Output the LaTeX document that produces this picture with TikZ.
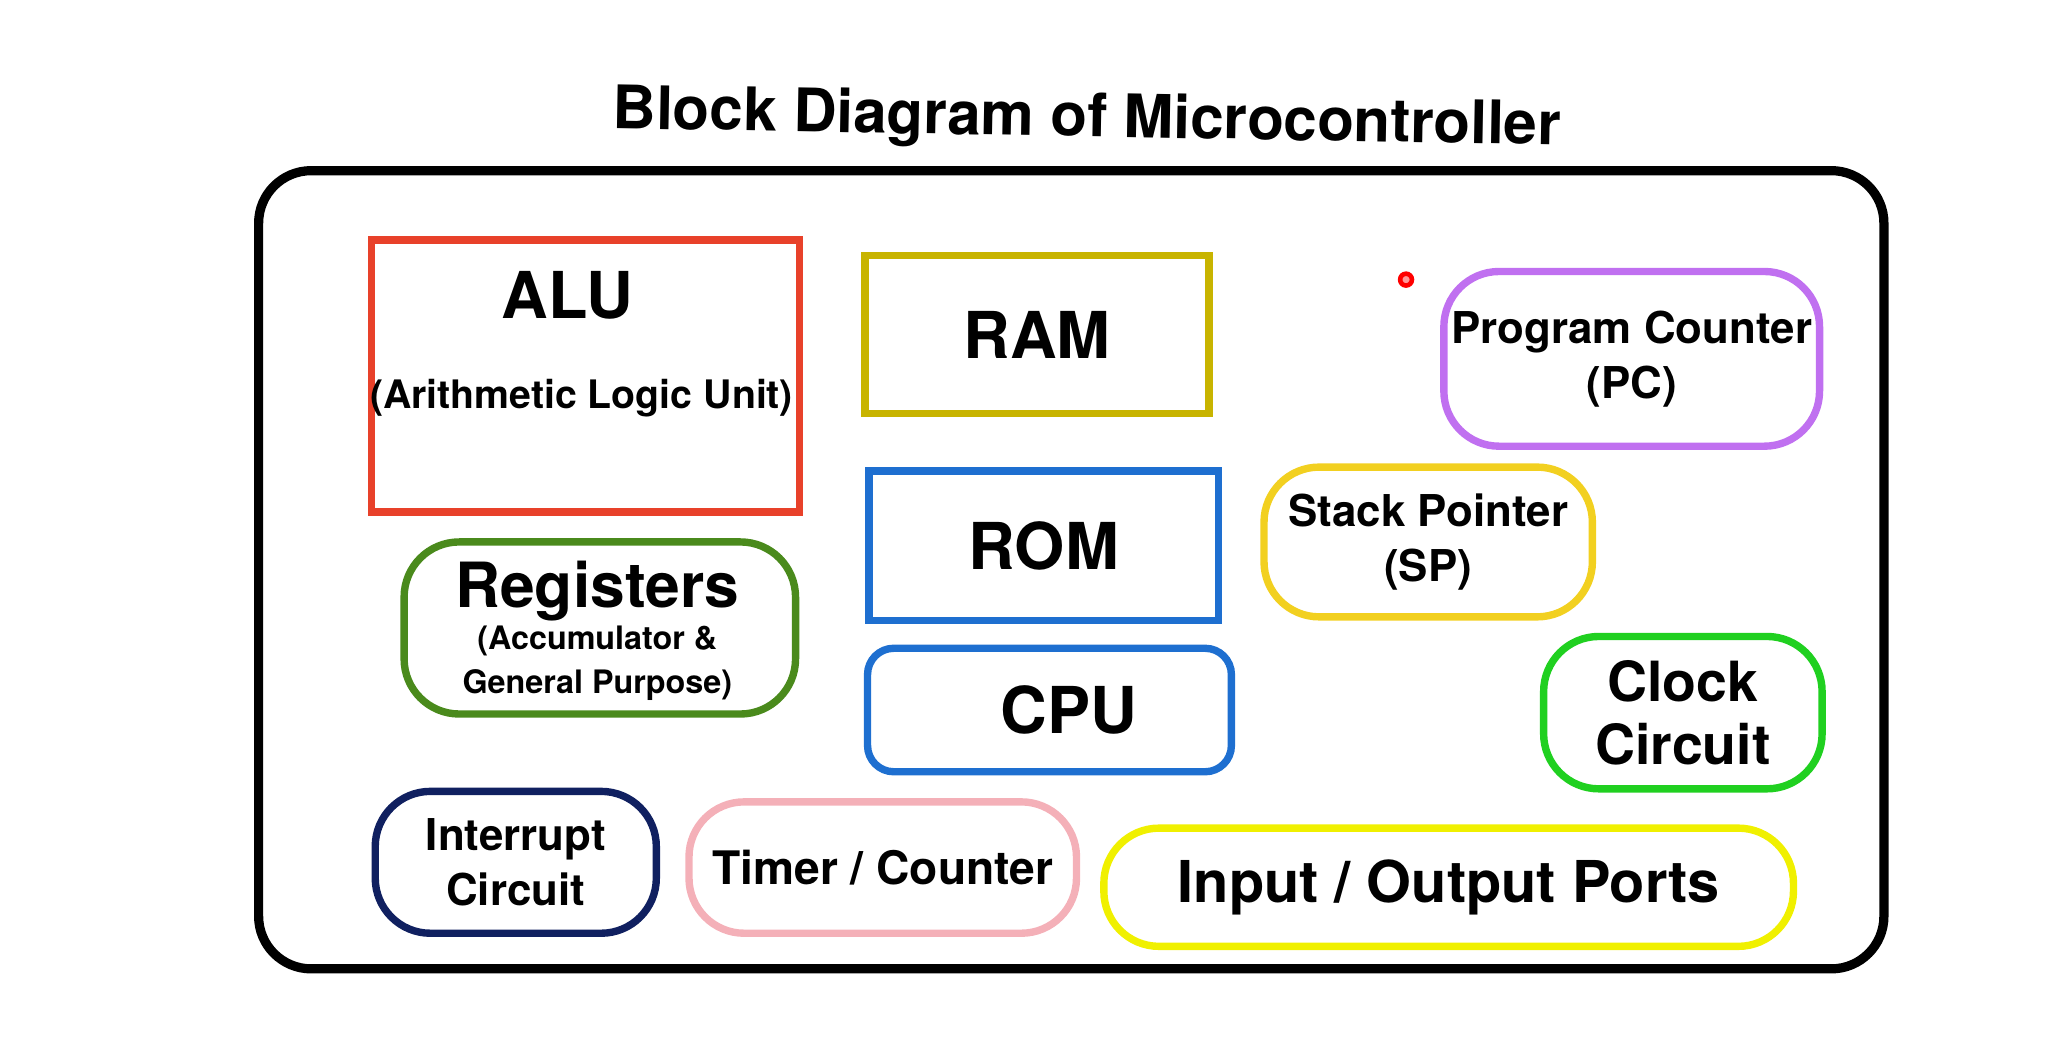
\documentclass[tikz,border=0pt]{standalone}
\usepackage{fontspec}
\setmainfont{TeX Gyre Heros}
\usetikzlibrary{positioning}
\definecolor{aluRed}{HTML}{E8412A}
\definecolor{ramOlive}{HTML}{C8B400}
\definecolor{romBlue}{HTML}{1E6FD0}
\definecolor{regGreen}{HTML}{4A8A1C}
\definecolor{pcViolet}{HTML}{C070F0}
\definecolor{spYellow}{HTML}{F2D020}
\definecolor{clkGreen}{HTML}{20D020}
\definecolor{intNavy}{HTML}{102060}
\definecolor{tmrPink}{HTML}{F4B0B8}
\definecolor{ioYellow}{HTML}{F0F000}
\begin{document}
\begin{tikzpicture}[x=0.01cm,y=-0.01cm,
block/.style={draw, line width=1.6pt, inner sep=0pt, font=\bfseries, align=center, anchor=north west},
rblock/.style={block, rounded corners=0.42cm},
]
\useasboundingbox (0,0) rectangle (1560,792);
\node[font=\bfseries\fontsize{13}{15}\selectfont, rotate=-1] (title) at (828,92) {Block Diagram of Microcontroller};
\draw[line width=2pt, rounded corners=0.4cm] (197,130) rectangle (1435,738);

\node[block, draw=aluRed, minimum width=3.26cm, minimum height=2.07cm] (alu) at (280,180) {};
\node[font=\bfseries\fontsize{14}{16}\selectfont] (alut) at (432,225) {ALU};
\node[font=\bfseries\fontsize{8.5}{10}\selectfont] (alus) at (443,303) {(Arithmetic Logic Unit)};

\node[block, draw=ramOlive, minimum width=2.62cm, minimum height=1.2cm, font=\bfseries\fontsize{14}{16}\selectfont] (ram) at (656,192) {RAM};
\node[block, draw=romBlue, minimum width=2.66cm, minimum height=1.14cm, font=\bfseries\fontsize{14}{16}\selectfont] (rom) at (659,356) {ROM};
\node[rblock, draw=romBlue, minimum width=2.77cm, minimum height=0.94cm, rounded corners=0.2cm, font=\bfseries\fontsize{14}{16}\selectfont] (cpu) at (658,491) {\hspace*{0.3cm}CPU};

\node[rblock, draw=regGreen, minimum width=2.98cm, minimum height=1.31cm] (reg) at (305,410) {};
\node[font=\bfseries\fontsize{13.5}{15}\selectfont] (regt) at (455,450) {Registers};
\node[font=\bfseries\fontsize{7}{9.5}\selectfont, align=center] (regs) at (455,505) {(Accumulator \&\\General Purpose)};

\node[rblock, draw=pcViolet, minimum width=2.86cm, minimum height=1.33cm, font=\bfseries\fontsize{9.5}{12}\selectfont] (pc) at (1097,204) {Program Counter\\(PC)};
\node[rblock, draw=spYellow, minimum width=2.5cm, minimum height=1.14cm, font=\bfseries\fontsize{9.5}{12}\selectfont] (sp) at (960,353) {Stack Pointer\\(SP)};
\node[rblock, draw=clkGreen, minimum width=2.12cm, minimum height=1.16cm, font=\bfseries\fontsize{12}{13.5}\selectfont] (clk) at (1173,482) {Clock\\Circuit};
\node[rblock, draw=intNavy, minimum width=2.14cm, minimum height=1.08cm, font=\bfseries\fontsize{9.5}{12}\selectfont] (int) at (283,600) {Interrupt\\Circuit};
\node[rblock, draw=tmrPink, minimum width=2.95cm, minimum height=1cm, font=\bfseries\fontsize{10}{12}\selectfont] (tmr) at (522,608) {Timer / Counter};
\node[rblock, draw=ioYellow, minimum width=5.25cm, minimum height=0.9cm, font=\bfseries\fontsize{12.5}{14}\selectfont] (io) at (838,628) {Input / Output Ports};

\node[circle, draw=red, fill=red!40, line width=1pt, inner sep=0pt, minimum size=0.09cm] (dot) at (1071,213) {};
\end{tikzpicture}
\end{document}
